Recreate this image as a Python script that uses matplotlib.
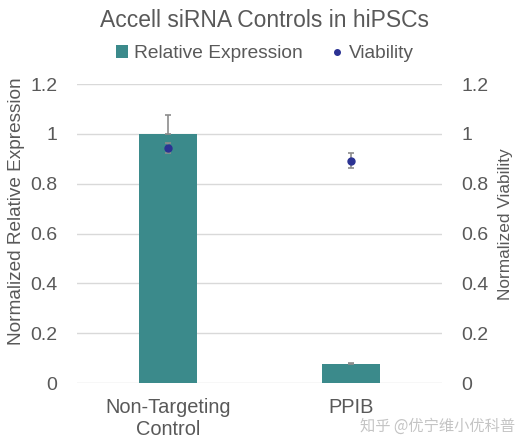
import numpy as np
import matplotlib.pyplot as plt
from matplotlib.lines import Line2D
from matplotlib.patches import Patch

categories = ['Non-Targeting\nControl', 'PPIB']
expression = [1.0, 0.077]
expression_err = [0.075, 0.004]
viability = [0.945, 0.893]
viability_err = [0.02, 0.03]

bar_color = '#3B8A8B'
dot_color = '#2B3293'
text_color = '#595959'

plt.rcParams['font.family'] = ['Liberation Sans', 'DejaVu Sans']

fig = plt.figure(figsize=(5.3, 4.47), dpi=100)
ax = fig.add_axes([0.145, 0.143, 0.689, 0.669])
ax2 = ax.twinx()

x = np.arange(len(categories))
ax.bar(x, expression, width=0.32, color=bar_color, zorder=2)
ax.errorbar(x, expression, yerr=[[0, 0], expression_err], fmt='none',
            ecolor='#8C8C8C', elinewidth=1.2, capsize=2.5, capthick=1.2, zorder=3)
ax2.errorbar(x, viability, yerr=viability_err, fmt='o', color=dot_color,
             markersize=5, ecolor='#8C8C8C', elinewidth=1.2, capsize=2.5, capthick=1.2, zorder=4)

for a in (ax, ax2):
    a.set_ylim(0, 1.2)
    a.set_yticks(np.arange(0, 1.21, 0.2))
    a.set_yticklabels(['0', '0.2', '0.4', '0.6', '0.8', '1', '1.2'])
    a.tick_params(length=0, labelsize=14, labelcolor=text_color, pad=14)
    for s in a.spines.values():
        s.set_visible(False)

ax.set_xlim(-0.5, 1.5)
ax.set_xticks(x)
ax.set_xticklabels(categories, fontsize=14.4, color=text_color, linespacing=1.15)
ax.tick_params(axis='x', pad=11)
ax.grid(axis='y', color='#D9D9D9', linewidth=1, zorder=0)
ax.set_axisbelow(True)

ax.set_ylabel('Normalized Relative Expression', fontsize=13.7, color=text_color, va='center')
ax.yaxis.set_label_coords(-0.164, 0.575)
ax2.set_ylabel('Normalized Viability', fontsize=12.4, color=text_color, va='center')
ax2.yaxis.set_label_coords(1.175, 0.53)

fig.text(0.5, 0.955, 'Accell siRNA Controls in hiPSCs', ha='center', va='center',
         fontsize=16.5, color=text_color)

handles = [Patch(facecolor=bar_color, label='Relative Expression'),
           Line2D([], [], marker='o', linestyle='none', color=dot_color, markersize=4, label='Viability')]
fig.legend(handles=handles, loc='center', bbox_to_anchor=(0.5, 0.88), ncol=2, frameon=False,
           fontsize=13.8, labelcolor=text_color, handlelength=0.6, handletextpad=0.3, columnspacing=1.5)

fig.text(0.825, 0.046, '知乎 @优宁维小优科普', ha='center', va='center', fontsize=11,
         color='#C4C4C4', family=['Noto Sans CJK SC', 'DejaVu Sans'])

fig.savefig('out.png', dpi=100)
